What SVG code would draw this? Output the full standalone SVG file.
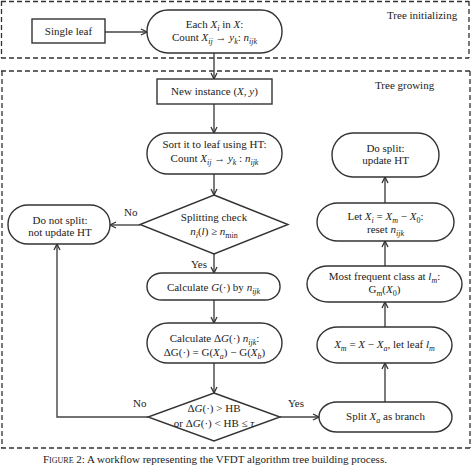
<svg xmlns="http://www.w3.org/2000/svg" width="474" height="467" viewBox="0 0 474 467">
<defs>
<style>
.t{font-family:"Liberation Serif","DejaVu Serif",serif;font-size:11px;fill:#222;text-anchor:middle}
.l{font-family:"Liberation Serif","DejaVu Serif",serif;font-size:11px;fill:#222}
.i{font-style:italic}
.s{font-size:8px;font-style:italic}
.sr{font-size:8px}
.box{fill:#fff;stroke:#333;stroke-width:1.4}
.c{fill:none;stroke:#444;stroke-width:1.4}
.d{fill:none;stroke:#333;stroke-width:1.3;stroke-dasharray:5 3}
</style>
<marker id="ah" viewBox="0 0 8 8" refX="7" refY="4" markerWidth="8" markerHeight="8" markerUnits="userSpaceOnUse" orient="auto">
<path d="M1,1 L7,4 L1,7" fill="none" stroke="#333" stroke-width="1.3"/>
</marker>
</defs>
<rect width="474" height="467" fill="#fff"/>

<g id="frames">
<line class="d" x1="1" y1="1.5" x2="469" y2="1.5"/>
<line class="d" x1="1" y1="58" x2="469" y2="58"/>
<line class="d" x1="1.5" y1="1" x2="1.5" y2="58"/>
<line class="d" x1="469" y1="1" x2="469" y2="58"/>
<line class="d" x1="1" y1="71" x2="470" y2="71"/>
<line class="d" x1="1" y1="448" x2="470" y2="448"/>
<line class="d" x1="2" y1="71" x2="2" y2="448" stroke-width="2.2" stroke-dasharray="2.5 1.5"/>
<line class="d" x1="470" y1="71" x2="470" y2="448" stroke="#bbb"/>
<text class="l" x="387" y="19">Tree initializing</text>
<text class="l" x="375" y="89">Tree growing</text>
</g>

<g id="connectors">
<line class="c" x1="105" y1="32" x2="147" y2="32" marker-end="url(#ah)"/>
<line class="c" x1="214" y1="53" x2="214" y2="79" marker-end="url(#ah)"/>
<line class="c" x1="214" y1="104" x2="214" y2="133" marker-end="url(#ah)"/>
<line class="c" x1="214" y1="174" x2="214" y2="195" marker-end="url(#ah)"/>
<line class="c" x1="140" y1="225" x2="110" y2="225" marker-end="url(#ah)"/>
<line class="c" x1="214" y1="254" x2="214" y2="273" marker-end="url(#ah)"/>
<line class="c" x1="214" y1="300" x2="214" y2="323" marker-end="url(#ah)"/>
<line class="c" x1="214" y1="363" x2="214" y2="393" marker-end="url(#ah)"/>
<polyline class="c" points="148,417 57,417 57,244" marker-end="url(#ah)"/>
<line class="c" x1="280" y1="417" x2="319" y2="417" marker-end="url(#ah)"/>
<line class="c" x1="385" y1="402" x2="385" y2="363" marker-end="url(#ah)"/>
<line class="c" x1="385" y1="327" x2="385" y2="302" marker-end="url(#ah)"/>
<line class="c" x1="385" y1="266" x2="385" y2="241" marker-end="url(#ah)"/>
<line class="c" x1="385" y1="203" x2="385" y2="177" marker-end="url(#ah)"/>
<text class="l" x="124" y="216">No</text>
<text class="l" x="191" y="268">Yes</text>
<text class="l" x="133" y="407">No</text>
<text class="l" x="288" y="407">Yes</text>
</g>

<g id="single-leaf">
<rect class="box" x="32" y="19" width="73" height="24"/>
<text class="t" x="68.5" y="35">Single leaf</text>
</g>

<g id="each-xi">
<rect class="box" x="147" y="10" width="135" height="43" rx="21" ry="21"/>
<text class="t" x="214.5" y="28">Each <tspan class="i">X</tspan><tspan class="s" dy="2.5">i</tspan><tspan dy="-2.5"> in </tspan><tspan class="i">X</tspan>:</text>
<text class="t" x="214.5" y="41">Count <tspan class="i">X</tspan><tspan class="s" dy="2.5">ij</tspan><tspan dy="-2.5"> → </tspan><tspan class="i">y</tspan><tspan class="s" dy="2.5">k</tspan><tspan dy="-2.5">: </tspan><tspan class="i">n</tspan><tspan class="s" dy="2.5">ijk</tspan></text>
</g>

<g id="new-instance">
<rect class="box" x="157" y="79" width="115" height="25"/>
<text class="t" x="214.5" y="95">New instance (<tspan class="i">X</tspan>, <tspan class="i">y</tspan>)</text>
</g>

<g id="sort-leaf">
<rect class="box" x="147" y="133" width="135" height="41" rx="21" ry="20"/>
<text class="t" x="214.5" y="148">Sort it to leaf using HT:</text>
<text class="t" x="214.5" y="162">Count <tspan class="i">X</tspan><tspan class="s" dy="2.5">ij</tspan><tspan dy="-2.5"> → </tspan><tspan class="i">y</tspan><tspan class="s" dy="2.5">k</tspan><tspan dy="-2.5"> : </tspan><tspan class="i">n</tspan><tspan class="s" dy="2.5">ijk</tspan></text>
</g>

<g id="splitting-check">
<polygon class="box" points="214,195 288,224.5 214,254 140,224.5"/>
<text class="t" x="214" y="221">Splitting check</text>
<text class="t" x="214" y="235"><tspan class="i">n</tspan><tspan class="s" dy="2.5">i</tspan><tspan dy="-2.5">(</tspan><tspan class="i">l</tspan>) ≥ <tspan class="i">n</tspan><tspan class="sr" dy="2.5">min</tspan></text>
</g>

<g id="do-not-split">
<rect class="box" x="8" y="205" width="102" height="39" rx="20" ry="19"/>
<text class="t" x="60" y="224">Do not split:</text>
<text class="t" x="60" y="236">not update HT</text>
</g>

<g id="calc-g">
<rect class="box" x="147" y="273" width="133" height="27" rx="15" ry="13"/>
<text class="t" x="213.5" y="291">Calculate <tspan class="i">G</tspan>(·) by <tspan class="i">n</tspan><tspan class="s" dy="2.5">ijk</tspan></text>
</g>

<g id="calc-dg">
<rect class="box" x="147" y="323" width="135" height="40" rx="21" ry="20"/>
<text class="t" x="214.5" y="342">Calculate Δ<tspan class="i">G</tspan>(·) <tspan class="i">n</tspan><tspan class="s" dy="2.5">ijk</tspan><tspan dy="-2.5">:</tspan></text>
<text class="t" x="214.5" y="356">ΔG(·) = G(<tspan class="i">X</tspan><tspan class="s" dy="2.5">a</tspan><tspan dy="-2.5">) − G(</tspan><tspan class="i">X</tspan><tspan class="s" dy="2.5">b</tspan><tspan dy="-2.5">)</tspan></text>
</g>

<g id="hb-check">
<polygon class="box" points="214,393 280,417 214,441 148,417"/>
<text class="t" x="214" y="412">Δ<tspan class="i">G</tspan>(·) &gt; HB</text>
<text class="t" x="214" y="427">or Δ<tspan class="i">G</tspan>(·) &lt; HB ≤ <tspan class="i">τ</tspan></text>
</g>

<g id="split-branch">
<rect class="box" x="319" y="402" width="133" height="30" rx="18" ry="15"/>
<text class="t" x="385.5" y="420">Split <tspan class="i">X</tspan><tspan class="s" dy="2.5">a</tspan><tspan dy="-2.5"> as branch</tspan></text>
</g>

<g id="xm">
<rect class="box" x="317" y="327" width="135" height="36" rx="21" ry="18"/>
<text class="t" x="384.5" y="348"><tspan class="i">X</tspan><tspan class="s" dy="2.5">m</tspan><tspan dy="-2.5"> = </tspan><tspan class="i">X</tspan> − <tspan class="i">X</tspan><tspan class="s" dy="2.5">a</tspan><tspan dy="-2.5">, let leaf </tspan><tspan class="i">l</tspan><tspan class="s" dy="2.5">m</tspan></text>
</g>

<g id="most-frequent">
<rect class="box" x="307" y="266" width="155" height="36" rx="21" ry="18"/>
<text class="t" x="384.5" y="280">Most frequent class at <tspan class="i">l</tspan><tspan class="s" dy="2.5">m</tspan><tspan dy="-2.5">:</tspan></text>
<text class="t" x="384.5" y="293">G<tspan class="s" dy="2.5">m</tspan><tspan dy="-2.5">(</tspan><tspan class="i">X</tspan><tspan class="sr" dy="2.5">0</tspan><tspan dy="-2.5">)</tspan></text>
</g>

<g id="let-xi">
<rect class="box" x="317" y="203" width="137" height="38" rx="21" ry="19"/>
<text class="t" x="385.5" y="220">Let <tspan class="i">X</tspan><tspan class="s" dy="2.5">i</tspan><tspan dy="-2.5"> = </tspan><tspan class="i">X</tspan><tspan class="s" dy="2.5">m</tspan><tspan dy="-2.5"> − </tspan><tspan class="i">X</tspan><tspan class="sr" dy="2.5">0</tspan><tspan dy="-2.5">:</tspan></text>
<text class="t" x="385.5" y="233">reset <tspan class="i">n</tspan><tspan class="s" dy="2.5">ijk</tspan></text>
</g>

<g id="do-split">
<rect class="box" x="332" y="133" width="107" height="44" rx="21" ry="22"/>
<text class="t" x="385.5" y="152">Do split:</text>
<text class="t" x="385.5" y="164">update HT</text>
</g>

<text class="l" x="43" y="463" font-size="9"><tspan style="font-variant:small-caps">Figure 2:</tspan> A workflow representing the VFDT algorithm tree building process.</text>
</svg>
